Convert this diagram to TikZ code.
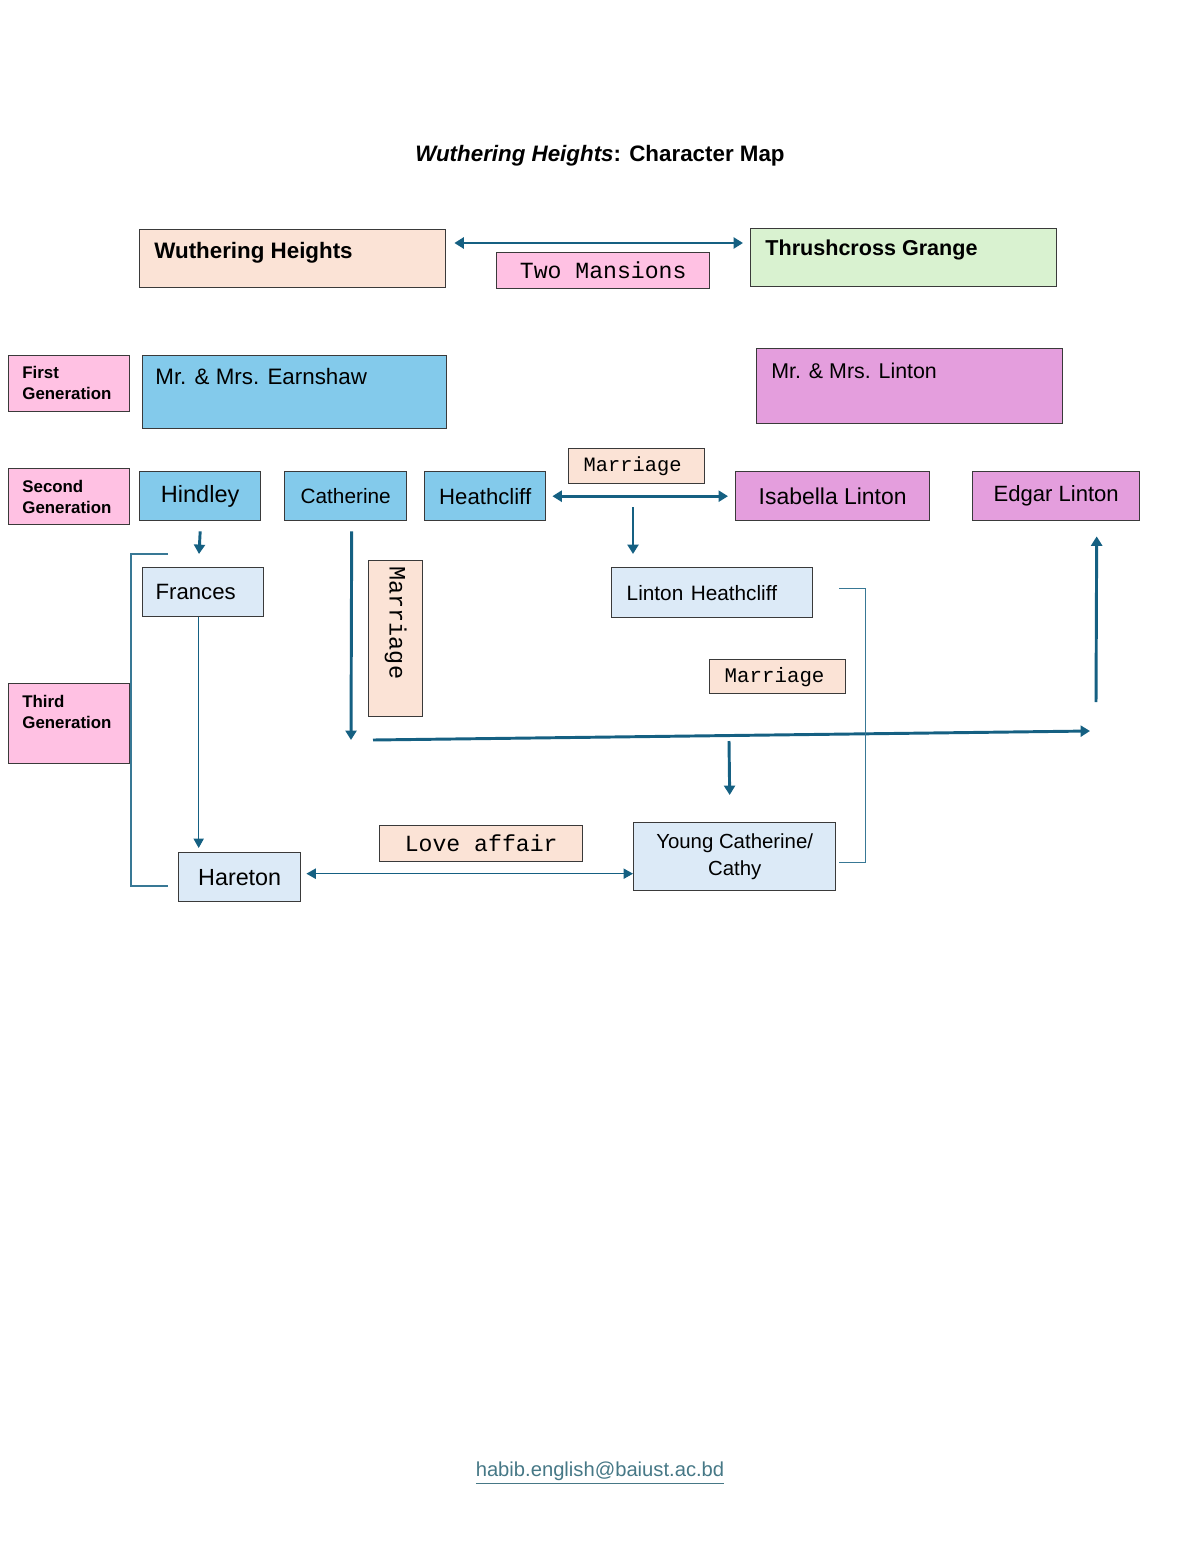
\documentclass[tikz,border=0pt]{standalone}
\usepackage{fontspec}
\setmainfont{Liberation Sans}
\setmonofont{Liberation Mono}
\usetikzlibrary{arrows.meta}
\definecolor{peach}{HTML}{FBE3D6}
\definecolor{pinkfill}{HTML}{FFC1E3}
\definecolor{greenfill}{HTML}{D9F2D0}
\definecolor{bluefill}{HTML}{83CAEB}
\definecolor{orchid}{HTML}{E49EDD}
\definecolor{paleblue}{HTML}{DCEAF7}
\definecolor{arrowc}{HTML}{156082}
\definecolor{edge}{HTML}{3A3A3A}
\definecolor{linkc}{HTML}{467886}
\newcommand{\fsz}[1]{\fontsize{#1}{#1}\selectfont}
\tikzset{
  box/.style={draw=edge, line width=0.7pt, anchor=north west, inner sep=0pt},
  sz/.style 2 args={minimum width=#1*0.51pt, minimum height=#2*0.51pt},
  lbl/.style={anchor=base west, inner sep=0pt, align=left},
  genfont/.style={font=\bfseries\fontsize{8.6}{10.7}\selectfont},
  arr/.style={draw=arrowc, line width=1.5pt, -{Triangle[width=5.6pt,length=4.8pt]}},
  darr/.style={arr, {Triangle[width=5.6pt,length=4.8pt]}-{Triangle[width=5.6pt,length=4.8pt]}},
  thinarr/.style={draw=arrowc, line width=0.7pt, -{Triangle[width=5.2pt,length=4.8pt]}},
  link/.style={draw=arrowc!85, line width=0.7pt},
  mono/.style={font=\ttfamily},
  lefttext/.style={text width=#1*0.51pt, align=left}
}
\begin{document}
\begin{tikzpicture}[x=0.51pt, y=-0.51pt, font=\fsz{11.4}]
	\useasboundingbox (0,0) rectangle (1200,1553);
	\node[font=\bfseries\fsz{11.4}, anchor=base] (title) at (600,162) {\textit{Wuthering Heights}: Character Map};
	
	\node[box, sz={306}{58}, fill=peach, label={[lbl, shift={(15,29)}]north west:{\bfseries Wuthering Heights}}] (wh) at (139,229) {};
	\node[box, sz={213}{36}, fill=pinkfill, mono] (two) at (496,252) {\fsz{11.8}Two Mansions};
	\node[box, sz={306}{58}, fill=greenfill, label={[lbl, shift={(15,28)}]north west:{\bfseries\fsz{11}Thrushcross Grange}}] (tg) at (750,228) {};
	
	\node[box, sz={121}{56}, fill=pinkfill, label={[lbl, genfont, shift={(14,44)}]north west:{First\\Generation}}] (gen1) at (8,355) {};
	\node[box, sz={121}{56}, fill=pinkfill, label={[lbl, genfont, shift={(14,45)}]north west:{Second\\Generation}}] (gen2) at (8,468) {};
	\node[box, sz={121}{80}, fill=pinkfill, label={[lbl, genfont, shift={(14,45)}]north west:{Third\\Generation}}] (gen3) at (8,683) {};
	
	\node[box, sz={304}{73}, fill=bluefill, label={[lbl, shift={(13,29)}]north west:{Mr. \& Mrs. Earnshaw}}] (ear) at (142,355) {};
	\node[box, sz={306}{75}, fill=orchid, label={[lbl, shift={(15,30)}]north west:{\fsz{10.9}Mr. \& Mrs. Linton}}] (lin) at (756,348) {};
	
	\node[box, sz={121}{49}, fill=bluefill] (hin) at (139,471) {\fsz{12}Hindley};
	\node[box, sz={122}{49}, fill=bluefill] (cat) at (284,471) {\fsz{10.6}Catherine};
	\node[box, sz={121}{49}, fill=bluefill] (hc) at (424,471) {\fsz{11.3}Heathcliff};
	\node[box, sz={136}{35}, fill=peach, mono, lefttext=106] (mar1) at (568,448) {\fsz{10.4}Marriage};
	\node[box, sz={194}{49}, fill=orchid] (isa) at (735,471) {\fsz{11.7}Isabella Linton};
	\node[box, sz={167}{49}, fill=orchid] (ed) at (972,471) {\fsz{11.25}Edgar Linton};
	
	\node[box, sz={121}{49}, fill=paleblue, lefttext=95] (fr) at (142,567) {\fsz{11.3}Frances};
	\node[box, sz={201}{50}, fill=paleblue, lefttext=171] (lh) at (611,567) {\fsz{10.6}Linton Heathcliff};
	\node[box, sz={54}{156}, fill=peach, label={[rotate=-90, anchor=west, inner sep=3pt, mono]north:{\fsz{12}Marriage}}] (mar2) at (368,560) {};
	\node[box, sz={136}{34}, fill=peach, mono, lefttext=106] (mar3) at (709,659) {\fsz{10.6}Marriage};
	\node[box, sz={202}{68}, fill=paleblue, align=center, font=\fontsize{10.4}{13.8}\selectfont] (yc) at (633,822) {Young Catherine/\\Cathy};
	\node[box, sz={122}{49}, fill=paleblue] (har) at (178,852) {\fsz{11.9}Hareton};
	\node[box, sz={203}{36}, fill=peach, mono] (love) at (379,825) {\fsz{11.8}Love affair};
	
	\coordinate (hinTip) at (199,554);
	\coordinate (mid) at (633,507);
	\coordinate (lhTip) at (633,554);
	\coordinate (catTip) at (351,740);
	\coordinate (lineL) at (373,740);
	\coordinate (lineR) at (1090,731);
	\coordinate (edFoot) at (1096,702);
	\coordinate (ycFoot) at (729,741);
	
	\draw[darr] ([shift={(8,14)}]wh.north east) -- ([shift={(-7,15)}]tg.north west);
	\draw[darr] ([shift={(6,0)}]hc.east) -- ([shift={(-7,0)}]isa.west);
	\draw[arr] ([shift={(0,10)}]hin.south) -- (hinTip);
	\draw[arr] (mid) -- (lhTip);
	\draw[arr] ([shift={(6,10)}]cat.south) -- (catTip);
	\draw[arr] (lineL) -- (lineR);
	\draw[arr] (edFoot) -- ([shift={(40.5,15)}]ed.south);
	\draw[arr] (ycFoot) -- ([shift={(-5,-27)}]yc.north);
	\draw[thinarr] ([shift={(-4.5,0)}]fr.south) -- ([shift={(-41,-4)}]har.north);
	\draw[thinarr, {Triangle[width=5.2pt,length=4.8pt]}-{Triangle[width=5.2pt,length=4.8pt]}] ([shift={(5,-3.5)}]har.east) -- ([shift={(0,17)}]yc.west);
	\draw[link] ([shift={(26,-13)}]fr.north west) -- ++(-37,0) |- ([shift={(-10,34)}]har.north west);
	\draw[link] ([shift={(26,-4)}]lh.east) -- ++(26,0) |- ([shift={(3,6)}]yc.east);
	
	\node[text=linkc, anchor=base] (mail) at (600,1476) {\fsz{10.3}\underline{habib.english@baiust.ac.bd}};
\end{tikzpicture}
\end{document}
